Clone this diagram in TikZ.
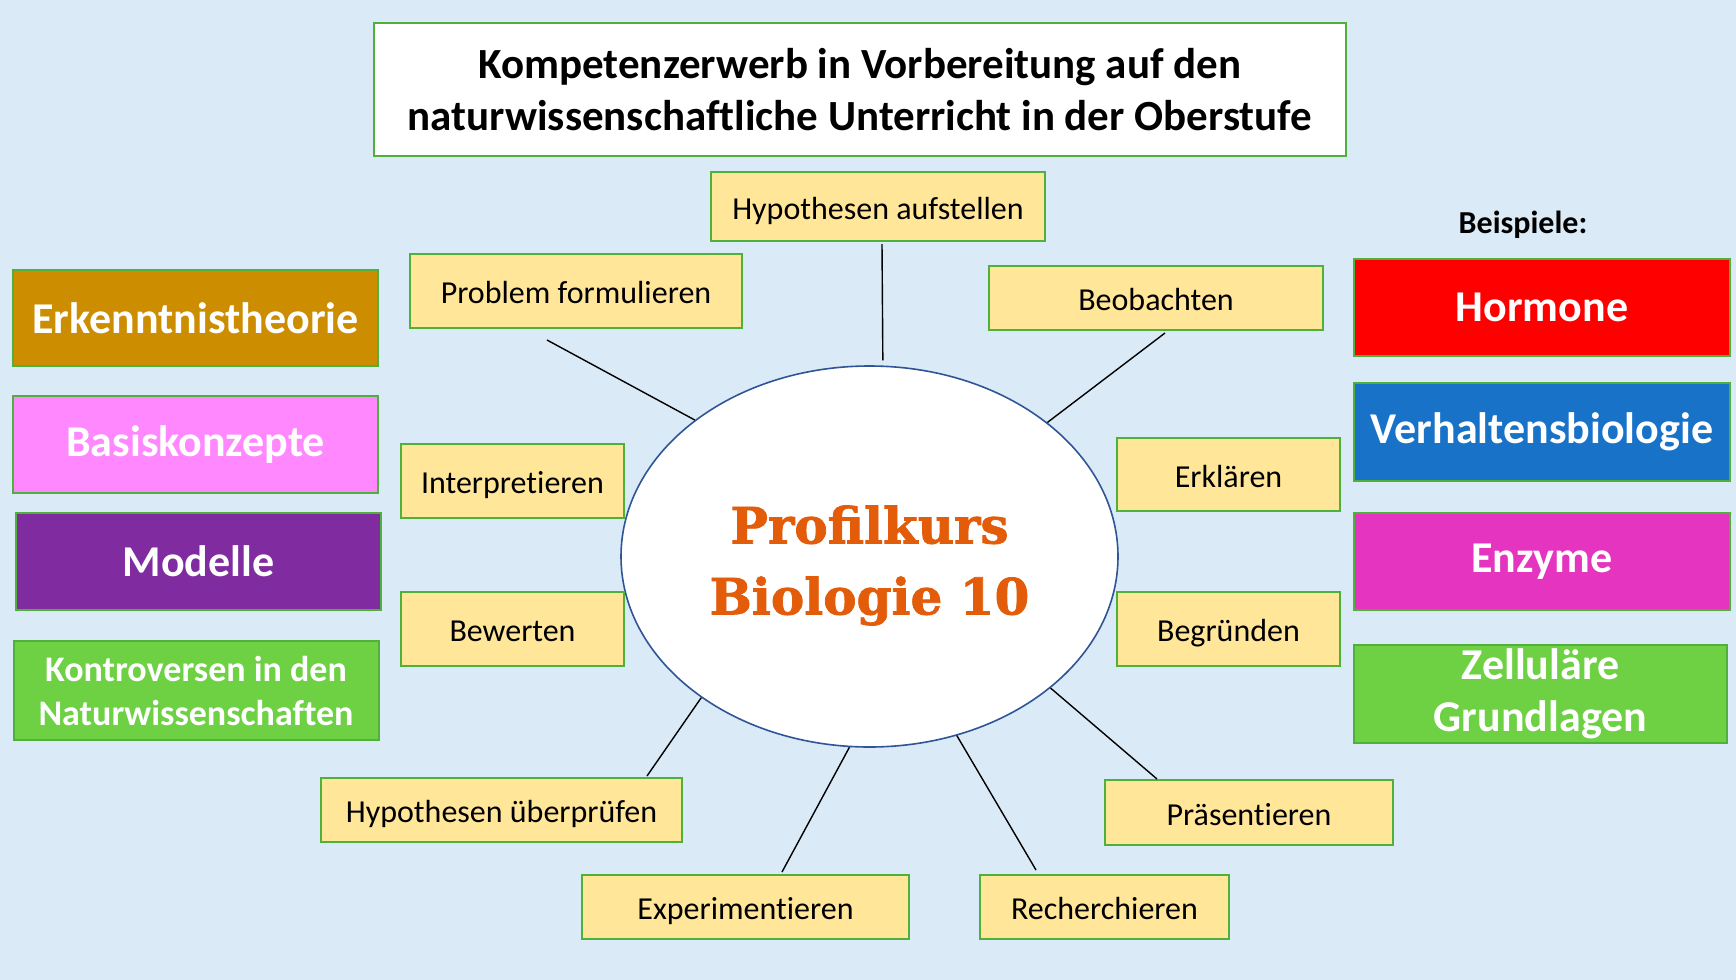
\documentclass[tikz,border=0pt]{standalone}
\usepackage{fontspec}
\setmainfont{Carlito}[Ligatures=NoCommon]
\newfontfamily\kursfont{DejaVu Serif}[BoldFeatures={FakeBold=1.5}]
\usetikzlibrary{shapes.geometric}

\definecolor{hblau}{RGB}{219,234,247}
\definecolor{rand}{RGB}{80,176,60}
\definecolor{gelb}{RGB}{255,230,153}
\definecolor{eblau}{RGB}{47,85,151}
\definecolor{korange}{RGB}{226,92,10}
\definecolor{ocker}{RGB}{204,142,0}
\definecolor{rosa}{RGB}{255,136,255}
\definecolor{lila}{RGB}{128,43,160}
\definecolor{gruen}{RGB}{109,209,67}
\definecolor{rot}{RGB}{255,0,0}
\definecolor{blau}{RGB}{24,115,200}
\definecolor{magenta}{RGB}{228,52,192}

\tikzset{
  stufe/.style={draw=rand, line width=1pt, fill=gelb, inner sep=0pt,
    text height=14pt, text depth=1.4pt, font=\fontsize{16}{19}\selectfont},
  thema/.style={draw=rand, line width=1pt, inner sep=0pt, text=white, align=center,
    minimum width=182.5pt, font=\fontsize{22}{26}\selectfont\bfseries},
  strich/.style={line width=0.7pt},
}

\begin{document}
\begin{tikzpicture}[x=0.5pt,y=-0.5pt]
    \fill[hblau] (0,0) rectangle (1736,980);
    \useasboundingbox (0,0) rectangle (1736,980);
    % title
    \node[draw=rand, line width=1pt, fill=white, inner sep=0pt, minimum width=486pt,
      minimum height=66.5pt, align=center, font=\fontsize{21.5}{26}\selectfont\bfseries]
      (titel) at (860,89.5) {Kompetenzerwerb in Vorbereitung auf den\\naturwissenschaftliche Unterricht in der Oberstufe};
    % centre
    \node[ellipse, draw=eblau, line width=0.8pt, fill=white, inner sep=0pt,
      minimum width=248.5pt, minimum height=190.5pt, text=korange, align=center,
      font=\kursfont\bfseries\fontsize{25}{35.5}\selectfont] (kurs) at (869.5,556.5)
      {\raisebox{-4.5pt}[\height][\depth]{Profilkurs}\\\raisebox{-4.5pt}[\height][\depth]{Biologie 10}};
    % steps
    \node[stufe, minimum width=167pt, minimum height=34.5pt] (hypa) at (878,206.5) {Hypothesen aufstellen};
    \node[stufe, minimum width=166pt, minimum height=37pt] (probl) at (576,291) {Problem formulieren};
    \node[stufe, minimum width=167pt, minimum height=32pt] (beob) at (1156,298) {Beobachten};
    \node[stufe, minimum width=111.5pt, minimum height=37pt] (interp) at (512.5,481) {Interpretieren};
    \node[stufe, minimum width=111.5pt, minimum height=37pt] (bew) at (512.5,629) {Bewerten};
    \node[stufe, minimum width=111.5pt, minimum height=36.5pt] (erkl) at (1228.5,474.5) {Erklären};
    \node[stufe, minimum width=111.5pt, minimum height=37pt] (begr) at (1228.5,629) {Begründen};
    \node[stufe, minimum width=180.5pt, minimum height=32pt] (hypue) at (501.5,810) {Hypothesen überprüfen};
    \node[stufe, minimum width=163.5pt, minimum height=32pt] (exper) at (745.5,907) {Experimentieren};
    \node[stufe, minimum width=124.5pt, minimum height=32pt] (rech) at (1104.5,907) {Recherchieren};
    \node[stufe, minimum width=144pt, minimum height=32.5pt] (praes) at (1249,812.5) {Präsentieren};
    % lines to the centre
    \draw[strich] ([xshift=2pt,yshift=-1pt]hypa.south) -- ([yshift=2.5pt]kurs.86.3);
    \draw[strich] ([xshift=-14.5pt,yshift=-5.5pt]probl.south) -- (kurs.142.7);
    \draw[strich] ([xshift=4.5pt,yshift=-1pt]beob.south) -- (kurs.37.4);
    \draw[strich] ([xshift=72.75pt,yshift=0.5pt]hypue.north) -- (kurs.220.3);
    \draw[strich] ([xshift=18.25pt,yshift=1pt]exper.north) -- (kurs.264.75);
    \draw[strich] ([xshift=-34.25pt,yshift=2pt]rech.north) -- (kurs.296);
    \draw[strich] ([xshift=-46pt]praes.north) -- (kurs.324.9);
    % left topics
    \node[thema, fill=ocker, minimum height=48pt] (erk) at (195.5,318) {Erkenntnistheorie};
    \node[thema, fill=rosa, minimum height=48.5pt] (basis) at (195.5,444.5) {Basiskonzepte};
    \node[thema, fill=lila, minimum height=48.5pt] (mod) at (198.5,561.5) {Modelle};
    \node[thema, fill=gruen, minimum height=49.5pt, font=\fontsize{18}{22}\selectfont\bfseries]
      (kontro) at (196,690.5) {Kontroversen in den\\Naturwissenschaften};
    % examples
    \node[font=\fontsize{16}{19}\selectfont\bfseries] (beisp) at (1523,225) {Beispiele:};
    \node[thema, fill=rot, minimum width=188pt, minimum height=48.5pt] (horm) at (1542,307.5) {Hormone};
    \node[thema, fill=blau, minimum width=188pt, minimum height=49pt] (verh) at (1542,432) {Verhaltensbiologie};
    \node[thema, fill=magenta, minimum width=188pt, minimum height=48.5pt] (enz) at (1542,561.5) {Enzyme};
    \node[thema, fill=gruen, minimum width=186.5pt, minimum height=49pt] (zell) at (1540.5,693.5) {Zelluläre\\Grundlagen};
\end{tikzpicture}
\end{document}
